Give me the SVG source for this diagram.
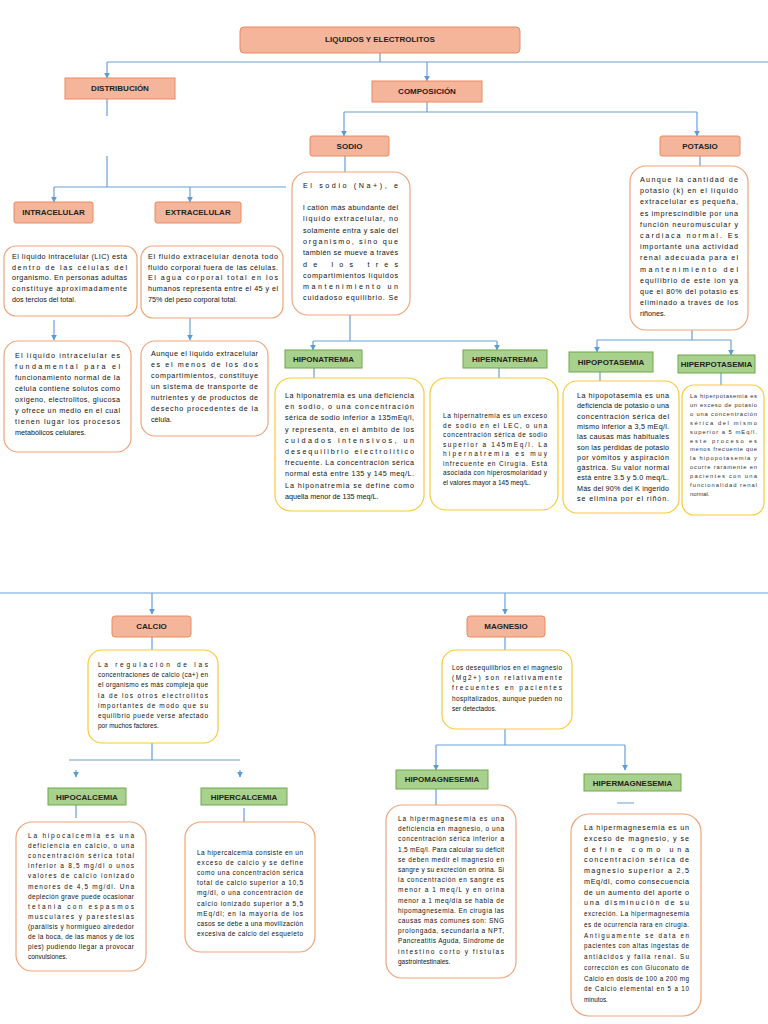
<svg xmlns="http://www.w3.org/2000/svg" width="768" height="1024" viewBox="0 0 768 1024">
<style>
.bg{fill:#fff}
.hd{fill:#f5b59b;stroke:#ec8a62;stroke-width:1}
.gr{fill:#a9d18e;stroke:#6fa84a;stroke-width:1}
.ob{fill:#fff;stroke:#f0a47a;stroke-width:1.2}
.yb{fill:#fff;stroke:#fbc93a;stroke-width:1.2}
.ht{font-family:"Liberation Sans",Arial,sans-serif;font-weight:bold;font-size:8px;fill:#222;text-anchor:middle}
.t{font-family:"Liberation Sans",Arial,sans-serif;font-size:7.2px;fill:#111}
.s{font-family:"Liberation Sans",Arial,sans-serif;font-size:6.5px;fill:#111}
.xs{font-family:"Liberation Sans",Arial,sans-serif;font-size:5.8px;fill:#333}
.c{fill:none;stroke:#6a9fd4;stroke-width:1.2}
</style>
<defs>
<marker id="a" viewBox="0 0 10 10" refX="9" refY="5" markerWidth="5" markerHeight="5" orient="auto"><path d="M0,0L10,5L0,10z" fill="#5b9bd5"/></marker>
</defs>
<rect class="bg" width="768" height="1024"/>
<g id="connectors">
<path class="c" d="M380 53V62M107 62H768"/>
<path class="c" d="M107 62V78" marker-end="url(#a)"/>
<path class="c" d="M427 62V81" marker-end="url(#a)"/>
<path class="c" d="M107 99V116M107 156V187M54 187H286"/>
<path class="c" d="M54 187V202" marker-end="url(#a)"/>
<path class="c" d="M190 187V202" marker-end="url(#a)"/>
<path class="c" d="M54 320V340" marker-end="url(#a)"/>
<path class="c" d="M190 318V340" marker-end="url(#a)"/>
<path class="c" d="M427 102V112M344 112H697"/>
<path class="c" d="M344 112V136" marker-end="url(#a)"/>
<path class="c" d="M697 112V136" marker-end="url(#a)"/>
<path class="c" d="M345 156V172M700 156V166"/>
<path class="c" d="M350 315V341M313 341H497"/>
<path class="c" d="M313 341V350" marker-end="url(#a)"/>
<path class="c" d="M497 341V350" marker-end="url(#a)"/>
<path class="c" d="M314 368V378M499 368V378"/>
<path class="c" d="M692 330V340M597 340H731"/>
<path class="c" d="M597 340V352" marker-end="url(#a)"/>
<path class="c" d="M731 340V355" marker-end="url(#a)"/>
<path class="c" d="M600 372V381M721 373V385"/>
<path class="c" d="M0 593H768"/>
<path class="c" d="M152 593V614" marker-end="url(#a)"/>
<path class="c" d="M505 593V614" marker-end="url(#a)"/>
<path class="c" d="M152 637V650M152 743V760M69 760H240"/>
<path class="c" d="M76 770V777" marker-end="url(#a)"/>
<path class="c" d="M240 770V777" marker-end="url(#a)"/>
<path class="c" d="M76 804V818M244 808V822"/>
<path class="c" d="M505 637V650M505 729V745M436 745H625"/>
<path class="c" d="M436 745V770" marker-end="url(#a)"/>
<path class="c" d="M625 745V770" marker-end="url(#a)"/>
<path class="c" d="M436 789V805M617 803H634"/>
</g>
<g id="n-root"><rect class="hd" x="240" y="27" width="280" height="26" rx="4"/><text class="ht" x="380" y="42">LIQUIDOS Y ELECTROLITOS</text></g>
<g id="n-dist"><rect class="hd" x="65" y="78" width="110" height="21"/><text class="ht" x="120" y="91">DISTRIBUCIÓN</text></g>
<g id="n-comp"><rect class="hd" x="372" y="81" width="110" height="21"/><text class="ht" x="427" y="94">COMPOSICIÓN</text></g>
<g id="n-intra"><rect class="hd" x="14" y="202" width="79" height="21" rx="2"/><text class="ht" x="53.5" y="215">INTRACELULAR</text></g>
<g id="n-extra"><rect class="hd" x="155" y="202" width="86" height="21" rx="2"/><text class="ht" x="198" y="215">EXTRACELULAR</text></g>
<g id="n-intra1"><rect class="ob" x="4" y="246" width="133" height="70" rx="12"/>
<text class="t" x="12" y="259"><tspan x="12" textLength="115" lengthAdjust="spacing">El líquido intracelular (LIC) está</tspan><tspan x="12" dy="10.7" textLength="115" lengthAdjust="spacing">dentro de las células del</tspan><tspan x="12" dy="10.7" textLength="115" lengthAdjust="spacing">organismo. En personas adultas</tspan><tspan x="12" dy="10.7" textLength="115" lengthAdjust="spacing">constituye aproximadamente</tspan><tspan x="12" dy="10.7">dos tercios del total.</tspan></text></g>
<g id="n-extra1"><rect class="ob" x="141" y="246" width="142" height="72" rx="12"/>
<text class="t" x="148" y="259"><tspan x="148" textLength="130" lengthAdjust="spacing">El fluido extracelular denota todo</tspan><tspan x="148" dy="10.7" textLength="130" lengthAdjust="spacing">fluido corporal fuera de las células.</tspan><tspan x="148" dy="10.7" textLength="130" lengthAdjust="spacing">El agua corporal total en los</tspan><tspan x="148" dy="10.7" textLength="130" lengthAdjust="spacing">humanos representa entre el 45 y el</tspan><tspan x="148" dy="10.7">75% del peso corporal total.</tspan></text></g>
<g id="n-intra2"><rect class="ob" x="4" y="341" width="127" height="111" rx="14"/>
<text class="t" x="15" y="358"><tspan x="15" textLength="105" lengthAdjust="spacing">El líquido intracelular es</tspan><tspan x="15" dy="11" textLength="105" lengthAdjust="spacing">fundamental para el</tspan><tspan x="15" dy="11" textLength="105" lengthAdjust="spacing">funcionamiento normal de la</tspan><tspan x="15" dy="11" textLength="105" lengthAdjust="spacing">célula contiene solutos como</tspan><tspan x="15" dy="11" textLength="105" lengthAdjust="spacing">oxígeno, electrolitos, glucosa</tspan><tspan x="15" dy="11" textLength="105" lengthAdjust="spacing">y ofrece un medio en el cual</tspan><tspan x="15" dy="11" textLength="105" lengthAdjust="spacing">tienen lugar los procesos</tspan><tspan x="15" dy="11">metabólicos celulares.</tspan></text></g>
<g id="n-extra2"><rect class="ob" x="141" y="341" width="127" height="95" rx="14"/>
<text class="t" x="151" y="356"><tspan x="151" textLength="107" lengthAdjust="spacing">Aunque el líquido extracelular</tspan><tspan x="151" dy="11" textLength="107" lengthAdjust="spacing">es el menos de los dos</tspan><tspan x="151" dy="11" textLength="107" lengthAdjust="spacing">compartimientos, constituye</tspan><tspan x="151" dy="11" textLength="107" lengthAdjust="spacing">un sistema de transporte de</tspan><tspan x="151" dy="11" textLength="107" lengthAdjust="spacing">nutrientes y de productos de</tspan><tspan x="151" dy="11" textLength="107" lengthAdjust="spacing">desecho procedentes de la</tspan><tspan x="151" dy="11">célula.</tspan></text></g>
<g id="n-sodio"><rect class="hd" x="310" y="136" width="79" height="20" rx="2"/><text class="ht" x="349.5" y="149">SODIO</text></g>
<g id="n-potasio"><rect class="hd" x="660" y="136" width="80" height="20" rx="2"/><text class="ht" x="700" y="149">POTASIO</text></g>
<g id="n-sodio-t"><rect class="ob" x="292" y="172" width="118" height="143" rx="16"/>
<text class="t" x="303" y="188"><tspan x="303" textLength="95" lengthAdjust="spacing">El sodio (Na+), e</tspan><tspan x="303" dy="22" textLength="95" lengthAdjust="spacing">l catión más abundante del</tspan><tspan x="303" dy="11.3" textLength="95" lengthAdjust="spacing">líquido extracelular, no</tspan><tspan x="303" dy="11.3" textLength="95" lengthAdjust="spacing">solamente entra y sale del</tspan><tspan x="303" dy="11.3" textLength="95" lengthAdjust="spacing">organismo, sino que</tspan><tspan x="303" dy="11.3" textLength="95" lengthAdjust="spacing">también se mueve a través</tspan><tspan x="303" dy="11.3" textLength="95" lengthAdjust="spacing">de los tres</tspan><tspan x="303" dy="11.3" textLength="95" lengthAdjust="spacing">compartimientos líquidos</tspan><tspan x="303" dy="11.3" textLength="95" lengthAdjust="spacing">mantenimiento un</tspan><tspan x="303" dy="11.3" textLength="95" lengthAdjust="spacing">cuidadoso equilibrio. Se</tspan></text></g>
<g id="n-hipona"><rect class="gr" x="285" y="350" width="77" height="18"/><text class="ht" x="323.5" y="362">HIPONATREMIA</text></g>
<g id="n-hiperna"><rect class="gr" x="463" y="350" width="84" height="18"/><text class="ht" x="505" y="362">HIPERNATREMIA</text></g>
<g id="n-hipona-t"><rect class="yb" x="275" y="378" width="149" height="133" rx="16"/>
<text class="t" x="285" y="398"><tspan x="285" textLength="129" lengthAdjust="spacing">La hiponatremia es una deficiencia</tspan><tspan x="285" dy="11.2" textLength="129" lengthAdjust="spacing">en sodio, o una concentración</tspan><tspan x="285" dy="11.2" textLength="129" lengthAdjust="spacing">sérica de sodio inferior a 135mEq/l,</tspan><tspan x="285" dy="11.2" textLength="129" lengthAdjust="spacing">y representa, en el ámbito de los</tspan><tspan x="285" dy="11.2" textLength="129" lengthAdjust="spacing">cuidados intensivos, un</tspan><tspan x="285" dy="11.2" textLength="129" lengthAdjust="spacing">desequilibrio electrolítico</tspan><tspan x="285" dy="11.2" textLength="129" lengthAdjust="spacing">frecuente. La concentración sérica</tspan><tspan x="285" dy="11.2" textLength="129" lengthAdjust="spacing">normal está entre 135 y 145 meq/L.</tspan><tspan x="285" dy="11.2" textLength="129" lengthAdjust="spacing">La hiponatremia se define como</tspan><tspan x="285" dy="11.2">aquella menor de 135 meq/L.</tspan></text></g>
<g id="n-hiperna-t"><rect class="yb" x="430" y="378" width="128" height="132" rx="16"/>
<text class="s" x="443" y="418"><tspan x="443" textLength="104" lengthAdjust="spacing">La hipernatremia es un exceso</tspan><tspan x="443" dy="9.5" textLength="104" lengthAdjust="spacing">de sodio en el LEC, o una</tspan><tspan x="443" dy="9.5" textLength="104" lengthAdjust="spacing">concentración sérica de sodio</tspan><tspan x="443" dy="9.5" textLength="104" lengthAdjust="spacing">superior a 145mEq/l. La</tspan><tspan x="443" dy="9.5" textLength="104" lengthAdjust="spacing">hipernatremia es muy</tspan><tspan x="443" dy="9.5" textLength="104" lengthAdjust="spacing">infrecuente en Cirugía. Está</tspan><tspan x="443" dy="9.5" textLength="104" lengthAdjust="spacing">asociada con hiperosmolaridad y</tspan><tspan x="443" dy="9.5">el valores mayor a 145 meq/L.</tspan></text></g>
<g id="n-potasio-t"><rect class="ob" x="630" y="166" width="118" height="164" rx="16"/>
<text class="t" x="640" y="182"><tspan x="640" textLength="98" lengthAdjust="spacing">Aunque la cantidad de</tspan><tspan x="640" dy="11.2" textLength="98" lengthAdjust="spacing">potasio (k) en el líquido</tspan><tspan x="640" dy="11.2" textLength="98" lengthAdjust="spacing">extracelular es pequeña,</tspan><tspan x="640" dy="11.2" textLength="98" lengthAdjust="spacing">es imprescindible por una</tspan><tspan x="640" dy="11.2" textLength="98" lengthAdjust="spacing">función neuromuscular y</tspan><tspan x="640" dy="11.2" textLength="98" lengthAdjust="spacing">cardiaca normal. Es</tspan><tspan x="640" dy="11.2" textLength="98" lengthAdjust="spacing">importante una actividad</tspan><tspan x="640" dy="11.2" textLength="98" lengthAdjust="spacing">renal adecuada para el</tspan><tspan x="640" dy="11.2" textLength="98" lengthAdjust="spacing">mantenimiento del</tspan><tspan x="640" dy="11.2" textLength="98" lengthAdjust="spacing">equilibrio de este ion ya</tspan><tspan x="640" dy="11.2" textLength="98" lengthAdjust="spacing">que el 80% del potasio es</tspan><tspan x="640" dy="11.2" textLength="98" lengthAdjust="spacing">eliminado a través de los</tspan><tspan x="640" dy="11.2">riñones.</tspan></text></g>
<g id="n-hipopo"><rect class="gr" x="569" y="352" width="84" height="20"/><text class="ht" x="611" y="365">HIPOPOTASEMIA</text></g>
<g id="n-hiperpo"><rect class="gr" x="678" y="355" width="77" height="18"/><text class="ht" x="716.5" y="367">HIPERPOTASEMIA</text></g>
<g id="n-hipopo-t"><rect class="yb" x="563" y="381" width="116" height="132" rx="14"/>
<text class="t" x="577" y="398"><tspan x="577" textLength="92" lengthAdjust="spacing">La hipopotasemia es una</tspan><tspan x="577" dy="10.3" textLength="92" lengthAdjust="spacing">deficiencia de potasio o una</tspan><tspan x="577" dy="10.3" textLength="92" lengthAdjust="spacing">concentración sérica del</tspan><tspan x="577" dy="10.3" textLength="92" lengthAdjust="spacing">mismo inferior a 3,5 mEq/l.</tspan><tspan x="577" dy="10.3" textLength="92" lengthAdjust="spacing">las causas más habituales</tspan><tspan x="577" dy="10.3" textLength="92" lengthAdjust="spacing">son las pérdidas de potasio</tspan><tspan x="577" dy="10.3" textLength="92" lengthAdjust="spacing">por vómitos y aspiración</tspan><tspan x="577" dy="10.3" textLength="92" lengthAdjust="spacing">gástrica. Su valor normal</tspan><tspan x="577" dy="10.3" textLength="92" lengthAdjust="spacing">está entre 3.5 y 5.0 meq/L.</tspan><tspan x="577" dy="10.3" textLength="92" lengthAdjust="spacing">Más del 90% del K ingerido</tspan><tspan x="577" dy="10.3" textLength="92" lengthAdjust="spacing">se elimina por el riñón.</tspan></text></g>
<g id="n-hiperpo-t"><rect class="yb" x="682" y="385" width="82" height="130" rx="12"/>
<text class="xs" x="690" y="398"><tspan x="690" textLength="67" lengthAdjust="spacing">La hiperpotasemia es</tspan><tspan x="690" dy="8.9" textLength="67" lengthAdjust="spacing">un exceso de potasio</tspan><tspan x="690" dy="8.9" textLength="67" lengthAdjust="spacing">o una concentración</tspan><tspan x="690" dy="8.9" textLength="67" lengthAdjust="spacing">sérica del mismo</tspan><tspan x="690" dy="8.9" textLength="67" lengthAdjust="spacing">superior a 5 mEq/l.</tspan><tspan x="690" dy="8.9" textLength="67" lengthAdjust="spacing">este proceso es</tspan><tspan x="690" dy="8.9" textLength="67" lengthAdjust="spacing">menos frecuente que</tspan><tspan x="690" dy="8.9" textLength="67" lengthAdjust="spacing">la hipopotasemia y</tspan><tspan x="690" dy="8.9" textLength="67" lengthAdjust="spacing">ocurre raramente en</tspan><tspan x="690" dy="8.9" textLength="67" lengthAdjust="spacing">pacientes con una</tspan><tspan x="690" dy="8.9" textLength="67" lengthAdjust="spacing">funcionalidad renal</tspan><tspan x="690" dy="8.9">normal.</tspan></text></g>
<g id="n-calcio"><rect class="hd" x="112" y="616" width="79" height="21" rx="3"/><text class="ht" x="151.5" y="629">CALCIO</text></g>
<g id="n-calcio-t"><rect class="yb" x="88" y="650" width="130" height="93" rx="14"/>
<text class="s" x="98" y="667"><tspan x="98" textLength="110" lengthAdjust="spacing">La regulación de las</tspan><tspan x="98" dy="10.2" textLength="110" lengthAdjust="spacing">concentraciones de calcio (ca+) en</tspan><tspan x="98" dy="10.2" textLength="110" lengthAdjust="spacing">el organismo es más compleja que</tspan><tspan x="98" dy="10.2" textLength="110" lengthAdjust="spacing">la de los otros electrolitos</tspan><tspan x="98" dy="10.2" textLength="110" lengthAdjust="spacing">importantes de modo que su</tspan><tspan x="98" dy="10.2" textLength="110" lengthAdjust="spacing">equilibrio puede verse afectado</tspan><tspan x="98" dy="10.2">por muchos factores.</tspan></text></g>
<g id="n-hipoca"><rect class="gr" x="48" y="788" width="78" height="17"/><text class="ht" x="87" y="799.5">HIPOCALCEMIA</text></g>
<g id="n-hiperca"><rect class="gr" x="201" y="788" width="86" height="17"/><text class="ht" x="244" y="799.5">HIPERCALCEMIA</text></g>
<g id="n-hipoca-t"><rect class="ob" x="16" y="822" width="130" height="149" rx="16"/>
<text class="s" x="28" y="838"><tspan x="28" textLength="106" lengthAdjust="spacing">La hipocalcemia es una</tspan><tspan x="28" dy="10.1" textLength="106" lengthAdjust="spacing">deficiencia en calcio, o una</tspan><tspan x="28" dy="10.1" textLength="106" lengthAdjust="spacing">concentración sérica total</tspan><tspan x="28" dy="10.1" textLength="106" lengthAdjust="spacing">inferior a 8,5 mg/dl o unos</tspan><tspan x="28" dy="10.1" textLength="106" lengthAdjust="spacing">valores de calcio ionizado</tspan><tspan x="28" dy="10.1" textLength="106" lengthAdjust="spacing">menores de 4,5 mg/dl. Una</tspan><tspan x="28" dy="10.1" textLength="106" lengthAdjust="spacing">depleción grave puede ocasionar</tspan><tspan x="28" dy="10.1" textLength="106" lengthAdjust="spacing">tetania con espasmos</tspan><tspan x="28" dy="10.1" textLength="106" lengthAdjust="spacing">musculares y parestesias</tspan><tspan x="28" dy="10.1" textLength="106" lengthAdjust="spacing">(parálisis y hormigueo alrededor</tspan><tspan x="28" dy="10.1" textLength="106" lengthAdjust="spacing">de la boca, de las manos y de los</tspan><tspan x="28" dy="10.1" textLength="106" lengthAdjust="spacing">pies) pudiendo llegar a provocar</tspan><tspan x="28" dy="10.1">convulsiones.</tspan></text></g>
<g id="n-hiperca-t"><rect class="ob" x="185" y="822" width="130" height="130" rx="16"/>
<text class="s" x="197" y="855"><tspan x="197" textLength="106" lengthAdjust="spacing">La hipercalcemia consiste en un</tspan><tspan x="197" dy="10.1" textLength="106" lengthAdjust="spacing">exceso de calcio y se define</tspan><tspan x="197" dy="10.1" textLength="106" lengthAdjust="spacing">como una concentración sérica</tspan><tspan x="197" dy="10.1" textLength="106" lengthAdjust="spacing">total de calcio superior a 10,5</tspan><tspan x="197" dy="10.1" textLength="106" lengthAdjust="spacing">mg/dl, o una concentración de</tspan><tspan x="197" dy="10.1" textLength="106" lengthAdjust="spacing">calcio ionizado superior a 5,5</tspan><tspan x="197" dy="10.1" textLength="106" lengthAdjust="spacing">mEq/dl; en la mayoría de los</tspan><tspan x="197" dy="10.1" textLength="106" lengthAdjust="spacing">casos se debe a una movilización</tspan><tspan x="197" dy="10.1" textLength="106" lengthAdjust="spacing">excesiva de calcio del esqueleto</tspan></text></g>
<g id="n-magnesio"><rect class="hd" x="467" y="616" width="78" height="21" rx="3"/><text class="ht" x="506" y="629">MAGNESIO</text></g>
<g id="n-magnesio-t"><rect class="yb" x="442" y="650" width="130" height="79" rx="14"/>
<text class="s" x="452" y="670"><tspan x="452" textLength="110" lengthAdjust="spacing">Los desequilibrios en el magnesio</tspan><tspan x="452" dy="10.2" textLength="110" lengthAdjust="spacing">(Mg2+) son relativamente</tspan><tspan x="452" dy="10.2" textLength="110" lengthAdjust="spacing">frecuentes en pacientes</tspan><tspan x="452" dy="10.2" textLength="110" lengthAdjust="spacing">hospitalizados, aunque pueden no</tspan><tspan x="452" dy="10.2">ser detectados.</tspan></text></g>
<g id="n-hipomg"><rect class="gr" x="396" y="770" width="92" height="19"/><text class="ht" x="442" y="782">HIPOMAGNESEMIA</text></g>
<g id="n-hipermg"><rect class="gr" x="584" y="774" width="97" height="17"/><text class="ht" x="632.5" y="785.5">HIPERMAGNESEMIA</text></g>
<g id="n-hipomg-t"><rect class="ob" x="386" y="805" width="130" height="173" rx="16"/>
<text class="s" x="398" y="821"><tspan x="398" textLength="106" lengthAdjust="spacing">La hipermagnesemia es una</tspan><tspan x="398" dy="10.2" textLength="106" lengthAdjust="spacing">deficiencia en magnesio, o una</tspan><tspan x="398" dy="10.2" textLength="106" lengthAdjust="spacing">concentración sérica inferior a</tspan><tspan x="398" dy="10.2" textLength="106" lengthAdjust="spacing">1,5 mEq/l. Para calcular su déficit</tspan><tspan x="398" dy="10.2" textLength="106" lengthAdjust="spacing">se deben medir el magnesio en</tspan><tspan x="398" dy="10.2" textLength="106" lengthAdjust="spacing">sangre y su excreción en orina. Si</tspan><tspan x="398" dy="10.2" textLength="106" lengthAdjust="spacing">la concentración en sangre es</tspan><tspan x="398" dy="10.2" textLength="106" lengthAdjust="spacing">menor a 1 meq/L y en orina</tspan><tspan x="398" dy="10.2" textLength="106" lengthAdjust="spacing">menor a 1 meq/día se habla de</tspan><tspan x="398" dy="10.2" textLength="106" lengthAdjust="spacing">hipomagnesemia. En cirugía las</tspan><tspan x="398" dy="10.2" textLength="106" lengthAdjust="spacing">causas más comunes son: SNG</tspan><tspan x="398" dy="10.2" textLength="106" lengthAdjust="spacing">prolongada, secundaria a NPT,</tspan><tspan x="398" dy="10.2" textLength="106" lengthAdjust="spacing">Pancreatitis Aguda, Síndrome de</tspan><tspan x="398" dy="10.2" textLength="106" lengthAdjust="spacing">intestino corto y fístulas</tspan><tspan x="398" dy="10.2">gastrointestinales.</tspan></text></g>
<g id="n-hipermg-t"><rect class="ob" x="571" y="814" width="130" height="202" rx="18"/>
<text class="t" x="584" y="830"><tspan x="584" textLength="105" lengthAdjust="spacing">La hipermagnesemia es un</tspan><tspan x="584" dy="10.75" textLength="105" lengthAdjust="spacing">exceso de magnesio, y se</tspan><tspan x="584" dy="10.75" textLength="105" lengthAdjust="spacing">define como una</tspan><tspan x="584" dy="10.75" textLength="105" lengthAdjust="spacing">concentración sérica de</tspan><tspan x="584" dy="10.75" textLength="105" lengthAdjust="spacing">magnesio superior a 2,5</tspan><tspan x="584" dy="10.75" textLength="105" lengthAdjust="spacing">mEq/dl, como consecuencia</tspan><tspan x="584" dy="10.75" textLength="105" lengthAdjust="spacing">de un aumento del aporte o</tspan><tspan x="584" dy="10.75" textLength="105" lengthAdjust="spacing">una disminución de su</tspan><tspan x="584" dy="10.75" textLength="105" lengthAdjust="spacing" font-size="6.3">excreción. La hipermagnesemia</tspan><tspan x="584" dy="10.75" textLength="105" lengthAdjust="spacing" font-size="6.3">es de ocurrencia rara en cirugía.</tspan><tspan x="584" dy="10.75" textLength="105" lengthAdjust="spacing" font-size="6.3">Antiguamente se data en</tspan><tspan x="584" dy="10.75" textLength="105" lengthAdjust="spacing" font-size="6.3">pacientes con altas ingestas de</tspan><tspan x="584" dy="10.75" textLength="105" lengthAdjust="spacing" font-size="6.3">antiácidos y falla renal. Su</tspan><tspan x="584" dy="10.75" textLength="105" lengthAdjust="spacing" font-size="6.3">corrección es con Gluconato de</tspan><tspan x="584" dy="10.75" textLength="105" lengthAdjust="spacing" font-size="6.3">Calcio en dosis de 100 a 200 mg</tspan><tspan x="584" dy="10.75" textLength="105" lengthAdjust="spacing" font-size="6.3">de Calcio elemental en 5 a 10</tspan><tspan x="584" dy="10.75" font-size="6.3">minutos.</tspan></text></g>
</svg>
